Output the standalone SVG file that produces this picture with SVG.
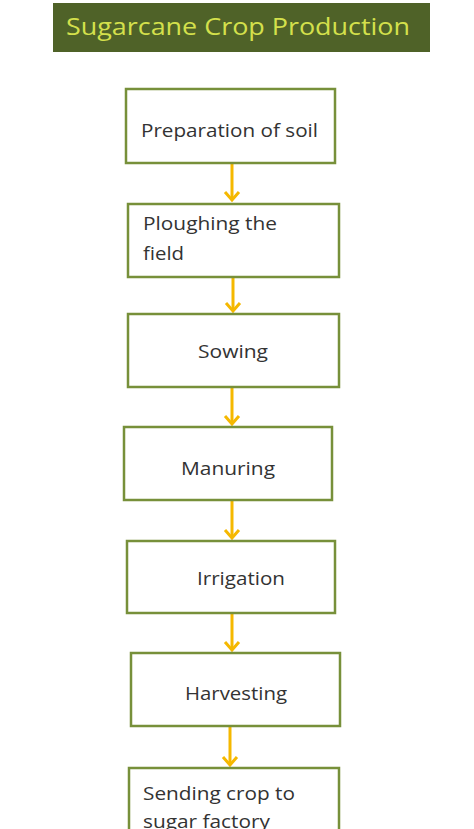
<svg xmlns="http://www.w3.org/2000/svg" width="474" height="829" viewBox="0 0 474 829">
<defs>
<style>
.box{fill:#ffffff;stroke:#77903a;stroke-width:2.5}
.t{font-family:"Open Sans","Liberation Sans",sans-serif;font-size:18px;fill:#333333}
.title{font-family:"Open Sans","Liberation Sans",sans-serif;font-size:24px;fill:#d4e04c}
.arr{stroke:#f5b800;stroke-width:3;fill:none}
</style>
</defs>
<rect width="474" height="829" fill="#ffffff"/>
<g id="title">
<rect x="53" y="3" width="377" height="49" fill="#4f6228"/>
<text class="title" x="66" y="35" textLength="344" lengthAdjust="spacingAndGlyphs">Sugarcane Crop Production</text>
</g>
<g id="connectors">
<path class="arr" d="M232,164 V200"/>
<path class="arr" d="M225,192 L232,200 L239,192"/>
<path class="arr" d="M233,278 V311"/>
<path class="arr" d="M226,303 L233,311 L240,303"/>
<path class="arr" d="M232,388 V424"/>
<path class="arr" d="M225,416 L232,424 L239,416"/>
<path class="arr" d="M232,501 V538"/>
<path class="arr" d="M225,530 L232,538 L239,530"/>
<path class="arr" d="M232,614 V650"/>
<path class="arr" d="M225,642 L232,650 L239,642"/>
<path class="arr" d="M230,727 V765"/>
<path class="arr" d="M223,757 L230,765 L237,757"/>
</g>
<g id="n1">
<rect class="box" x="126" y="89" width="209" height="74"/>
<text class="t" x="141" y="137" textLength="177" lengthAdjust="spacingAndGlyphs">Preparation of soil</text>
</g>
<g id="n2">
<rect class="box" x="128" y="204" width="211" height="73"/>
<text class="t" x="143" y="230" textLength="134" lengthAdjust="spacingAndGlyphs">Ploughing the</text>
<text class="t" x="143" y="260" textLength="41" lengthAdjust="spacingAndGlyphs">field</text>
</g>
<g id="n3">
<rect class="box" x="128" y="314" width="211" height="73"/>
<text class="t" x="198" y="358" textLength="70" lengthAdjust="spacingAndGlyphs">Sowing</text>
</g>
<g id="n4">
<rect class="box" x="124" y="427" width="208" height="73"/>
<text class="t" x="181" y="475" textLength="94" lengthAdjust="spacingAndGlyphs">Manuring</text>
</g>
<g id="n5">
<rect class="box" x="127" y="541" width="208" height="72"/>
<text class="t" x="197" y="585" textLength="88" lengthAdjust="spacingAndGlyphs">Irrigation</text>
</g>
<g id="n6">
<rect class="box" x="131" y="653" width="209" height="73"/>
<text class="t" x="185" y="700" textLength="102" lengthAdjust="spacingAndGlyphs">Harvesting</text>
</g>
<g id="n7">
<rect class="box" x="129" y="768" width="210" height="80"/>
<text class="t" x="143" y="800" textLength="152" lengthAdjust="spacingAndGlyphs">Sending crop to</text>
<text class="t" x="143" y="828" textLength="127" lengthAdjust="spacingAndGlyphs">sugar factory</text>
</g>
</svg>
